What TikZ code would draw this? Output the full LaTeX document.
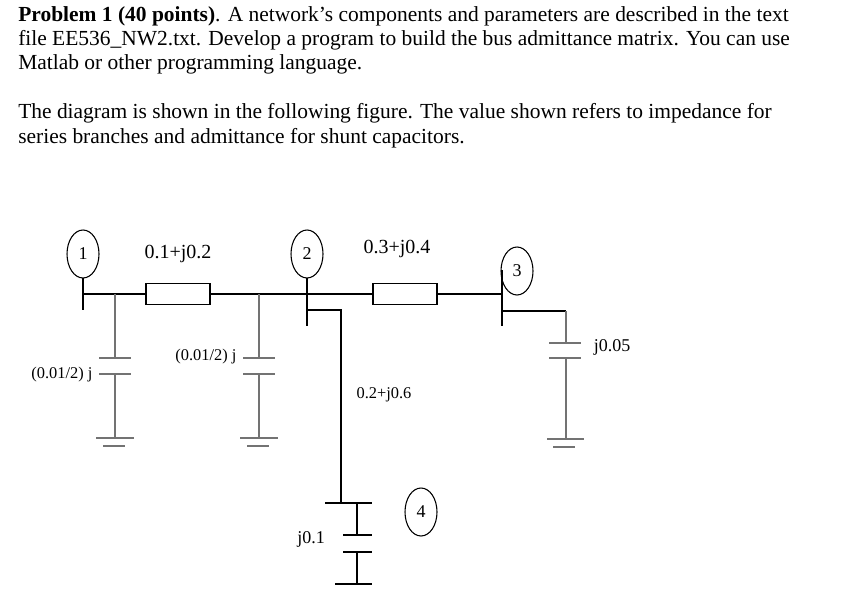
\documentclass[tikz,border=0pt]{standalone}
\usepackage{fontspec}
\setmainfont{Liberation Serif}
\begin{document}
\begin{tikzpicture}[x=0.75pt,y=-0.75pt,
  wire/.style={line width=0.9pt},
  gw/.style={line width=0.9pt,draw=black!55},
  zbox/.style={draw,line width=0.9pt,minimum width=48pt,minimum height=15.5pt,inner sep=0pt},
  big/.style={font=\fontsize{15}{17}\selectfont},
  mid/.style={font=\fontsize{13.5}{15}\selectfont},
  sm/.style={font=\fontsize{12.3}{14}\selectfont},
  hd/.style={anchor=base west,inner sep=0pt,font=\fontsize{16.1}{19}\selectfont}]
\useasboundingbox (0,0) rectangle (848,599);
% header
\node[hd] (h1) at (18,22) {\textbf{Problem 1 (40 points)}. A network’s components and parameters are described in the text};
\node[hd] (h2) at (18,46) {file EE536\_NW2.txt. Develop a program to build the bus admittance matrix. You can use};
\node[hd] (h3) at (18,70) {Matlab or other programming language.};
\node[hd] (h4) at (18,119) {The diagram is shown in the following figure. The value shown refers to impedance for};
\node[hd] (h5) at (18,143) {series branches and admittance for shunt capacitors.};
% buses
\foreach \n/\x/\y in {1/83/254,2/307/254,3/517/271,4/421/512}{
  \draw[line width=0.8pt] (\x,\y) ellipse (12pt and 18pt);
  \node[mid] (b\n) at (\x,\y) {\n};
}
% bus bars
\coordinate (s1) at (83,278); \coordinate (e1) at (83,310);
\draw[wire] (s1) -- (e1);
\coordinate (s2) at (307,278); \coordinate (e2) at (307,326);
\draw[wire] (s2) -- (e2);
\coordinate (s3) at (502,270); \coordinate (e3) at (502,326);
\draw[wire] (s3) -- (e3);
% series boxes
\node[zbox] (z1) at (178,294) {};
\node[zbox] (z2) at (405,294) {};
\draw[wire] (83,294) -- (z1.west);
\draw[wire] (z1.east) -- (z2.west);
\draw[wire] (z2.east) -- (502,294);
\node[big] (l1) at (178,254) {0.1+j0.2};
\node[big] (l2) at (397,249) {0.3+j0.4};
% shunt caps 1 and 2
\foreach \x/\k in {115/a,259/b}{
  \draw[gw] (\x,294) -- (\x,358);
  \draw[gw] (\x-16,358) -- (\x+16,358);
  \draw[gw] (\x-16,374) -- (\x+16,374);
  \draw[gw] (\x,374) -- (\x,438);
  \draw[gw] (\x-19,438) -- (\x+19,438);
  \draw[gw] (\x-12,446) -- (\x+10,446);
}
\node[sm] (c1) at (62,375) {(0.01/2) j};
\node[sm] (c2) at (206,357) {(0.01/2) j};
% bus3 shunt
\draw[wire] (502,311) -- (566,311);
\draw[gw] (566,311) -- (566,343);
\draw[gw] (549,343) -- (581,343);
\draw[gw] (549,358) -- (581,358);
\draw[gw] (566,358) -- (566,439);
\draw[gw] (547,439) -- (584,439);
\draw[gw] (553,447) -- (575,447);
\node[mid] (c3) at (612,347) {j0.05};
% branch to bus 4
\draw[wire] (307,310) -- (341,310) -- (341,503);
\node[sm] (l3) at (384,395) {0.2+j0.6};
\draw[wire] (325,503) -- (372,503);
\draw[wire] (357,503) -- (357,535);
\draw[wire] (343,535) -- (372,535);
\draw[wire] (343,552) -- (372,552);
\draw[wire] (357,552) -- (357,584);
\draw[wire] (335,584) -- (372,584);
\node[mid] (c4) at (311,539) {j0.1};
\end{tikzpicture}
\end{document}
